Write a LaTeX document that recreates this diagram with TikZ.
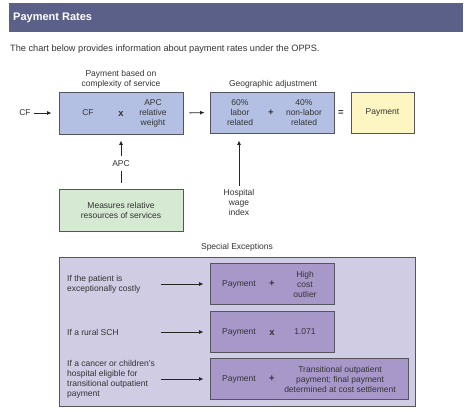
\documentclass[tikz,border=0pt]{standalone}
\usepackage{fontspec}
\setmainfont{Liberation Sans}
\usetikzlibrary{arrows.meta}
\definecolor{hdr}{HTML}{5B6089}
\definecolor{bluebox}{HTML}{B4C0E3}
\definecolor{yellowbox}{HTML}{FDF6C3}
\definecolor{greenbox}{HTML}{D6E9D3}
\definecolor{lavbox}{HTML}{CFCCE4}
\definecolor{purplebox}{HTML}{A898CA}
\definecolor{edge}{HTML}{55555F}
\definecolor{txt}{HTML}{333333}
\tikzset{
  box/.style={draw=edge, line width=0.9pt, minimum width=#1, minimum height=41pt, inner sep=0pt},
  box/.default=124pt,
  lbl/.style={font=\fontsize{8.5}{10}\selectfont, text=txt, align=center, inner sep=0pt},
  op/.style={font=\fontsize{9.5}{10}\selectfont\bfseries, text=txt, inner sep=0pt},
  lbll/.style={font=\fontsize{8.5}{10}\selectfont, text=txt, align=left, inner sep=0pt, anchor=west},
  arr/.style={draw=black!85, line width=0.8pt, -{Latex[length=4.5pt,width=4pt]}},
  ln/.style={draw=black!85, line width=0.8pt}
}
\begin{document}
\begin{tikzpicture}[x=1pt,y=-1pt]
\useasboundingbox (0,0) rectangle (474,412);
% header
\node[fill=hdr, minimum width=454pt, minimum height=29pt, inner sep=0pt] (header) at (236,17.5) {};
\node[font=\fontsize{11}{13}\selectfont\bfseries, text=white, anchor=west, inner sep=0pt] (htitle) at (13,18) {Payment Rates};
\node[lbll, font=\fontsize{9.2}{11}\selectfont] (intro) at (10,49) {The chart below provides information about payment rates under the OPPS.};

% top row
\node[lbl] (t1) at (121,79) {Payment based on\\complexity of service};
\node[box, minimum height=42pt, fill=bluebox] (box1) at (121,113) {};
\node[lbl] (cf) at (88,113) {CF};
\node[op] (x1) at (121,113.5) {x};
\node[lbl] (apcw) at (153,113) {APC\\relative\\weight};
\node[lbl] (cfin) at (25,113) {CF};

\node[lbl] (t2) at (273,84) {Geographic adjustment};
\node[box, fill=bluebox] (box2) at (272,112.5) {};
\node[lbl] (lab) at (240,113) {60\%\\labor\\related};
\node[op] (plus1) at (271,113) {+};
\node[lbl] (nlab) at (304,113) {40\%\\non-labor\\related};
\node[op] (eq) at (341,113) {=};
\node[box=63pt, fill=yellowbox] (pay) at (382.5,112.5) {};
\node[lbl] (paytxt) at (pay) {Payment};

% green box
\node[box, minimum height=42pt, fill=greenbox] (green) at (121,210) {};
\node[lbl] (gtext) at (121,210) {Measures relative\\resources of services};
\node[lbl, minimum height=16pt] (apc) at (121,163.5) {APC};
\node[lbl] (hwi) at (239,202) {Hospital\\wage\\index};

% connectors top
\draw[arr, shorten <=3pt, shorten >=7pt] (cfin.east) -- (box1.west);
\draw[arr, shorten <=6pt, shorten >=5pt] (box1.east) -- (box2.west);
\draw[ln, shorten <=6pt, shorten >=-1pt] (green.north) -- (apc.south);
\draw[arr, shorten <=-1pt, shorten >=6pt] (apc.north) -- (box1.south);
\draw[arr, shorten <=3pt, shorten >=7pt] (hwi.north) -- (hwi.north |- box2.south);

% special exceptions
\node[lbl] (se) at (237,247.5) {Special Exceptions};
\node[draw=edge, line width=0.9pt, fill=lavbox, minimum width=356pt, minimum height=149pt, inner sep=0pt] (big) at (237,331.5) {};

\node[box, fill=purplebox] (p1) at (272,283.5) {};
\node[lbl] (p1a) at (239,284) {Payment};
\node[op] (p1b) at (272,284) {+};
\node[lbl] (p1c) at (305,284) {High\\cost\\outlier};
\node[lbll] (r1) at (67,284) {If the patient is\\exceptionally costly};
\coordinate (s1) at (161,284);
\draw[arr, shorten >=6pt] (s1) -- (s1 -| p1.west);

\node[box, fill=purplebox] (p2) at (272,331.5) {};
\node[lbl] (p2a) at (239,332) {Payment};
\node[op] (p2b) at (272,332.5) {x};
\node[lbl] (p2c) at (305,332) {1.071};
\node[lbll] (r2) at (67,332) {If a rural SCH};
\coordinate (s2) at (161,332);
\draw[arr, shorten >=6pt] (s2) -- (s2 -| p2.west);

\node[box=198pt, fill=purplebox] (p3) at (309,378.5) {};
\node[lbl] (p3a) at (239,379) {Payment};
\node[op] (p3b) at (272,379) {+};
\node[lbl] (p3c) at (340,379) {Transitional outpatient\\payment; final payment\\determined at cost settlement};
\node[lbll] (r3) at (67,379) {If a cancer or children's\\hospital eligible for\\transitional outpatient\\payment};
\coordinate (s3) at (161,379);
\draw[arr, shorten >=6pt] (s3) -- (s3 -| p3.west);
\end{tikzpicture}
\end{document}
